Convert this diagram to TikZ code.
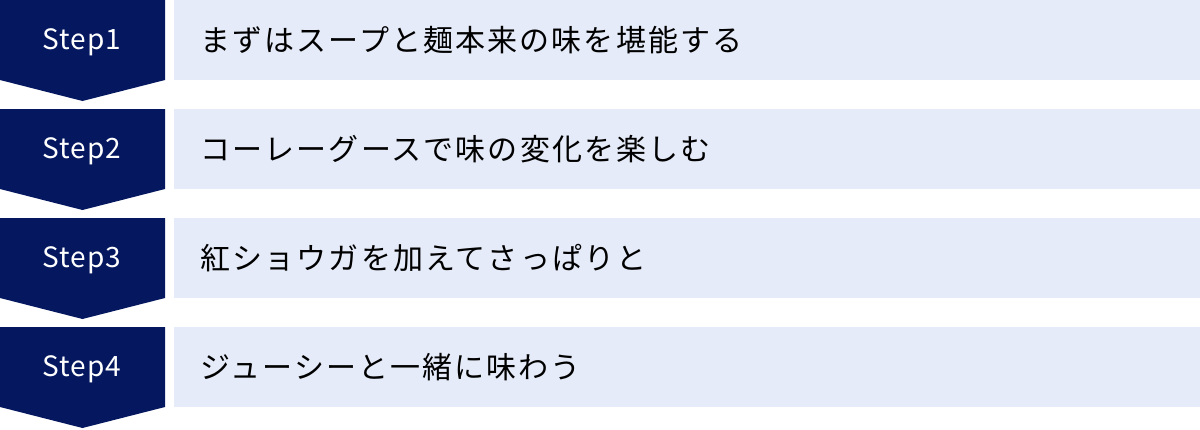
\documentclass[tikz,border=0pt]{standalone}
\usepackage{fontspec}
\setmainfont{Noto Sans CJK JP}
\newfontfamily\stepfont{Noto Sans CJK JP}[LetterSpace=4]
\newfontfamily\rowfont{Noto Sans CJK JP}[LetterSpace=7]
\usepackage{xcolor}
\definecolor{stepnavy}{HTML}{05185F}
\definecolor{rowblue}{HTML}{E5EBF8}

\begin{document}
\begin{tikzpicture}[x=1pt,y=-1pt,
  steplabel/.style={text=white,font=\stepfont\fontsize{28}{32}\selectfont},
  rowtext/.style={anchor=west,text=black,font=\rowfont\fontsize{30}{36}\selectfont}]
% Row pitch 109, box 80 high, tip 21 deeper
  \useasboundingbox (0,0) rectangle (1200,429);
  \foreach \txt [count=\i] in {まずはスープと麺本来の味を堪能する,
      コーレーグースで味の変化を楽しむ,
      紅ショウガを加えてさっぱりと,
      ジューシーと一緒に味わう} {
    \pgfmathsetmacro\top{109*(\i-1)}
    \fill[stepnavy] (0,\top) -- (165,\top) -- (165,\top+80)
      -- (82.5,\top+101) -- (0,\top+80) -- cycle;
    \fill[rowblue] (174,\top) rectangle (1200,\top+80);
    \node[steplabel] (step\i) at (82,\top+42) {Step\i};
    \node[rowtext] (text\i) at (197,\top+40) {\txt};
  }
\end{tikzpicture}
\end{document}
